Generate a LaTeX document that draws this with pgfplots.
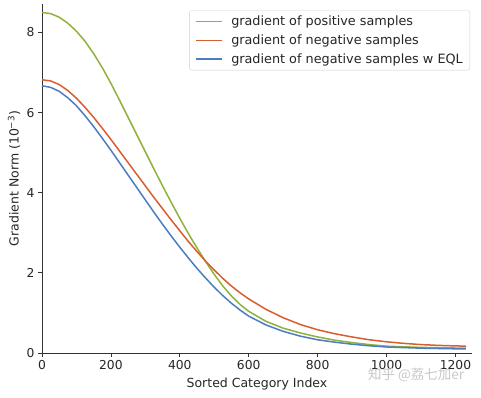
\documentclass[border=0pt]{standalone}
\usepackage{fontspec}
\setmainfont{DejaVu Sans}
\newfontfamily\cjk{Noto Sans CJK SC}
\usepackage{pgfplots}
\pgfplotsset{compat=1.18}
\definecolor{cgreen}{RGB}{142,178,60}
\definecolor{cred}{RGB}{217,94,45}
\definecolor{cblue}{RGB}{76,125,190}
\begin{document}
\begin{tikzpicture}
\begin{axis}[
  scale only axis, width=430pt, height=349pt,
  xmin=0, xmax=1248, ymin=0, ymax=8.71,
  axis x line*=bottom, axis y line*=left,
  axis line style={line width=0.8pt, black!80},
  tick align=outside, major tick length=4pt,
  tick style={line width=0.8pt, black!80},
  xtick={0,200,400,600,800,1000,1200},
  ytick={0,2,4,6,8},
  /pgf/number format/assume math mode=true,
  /pgf/number format/1000 sep={},
  ticklabel style={font=\fontsize{12.3}{14}\selectfont, text=black!85},
  xlabel={Sorted Category Index},
  ylabel={Gradient Norm (10\textsuperscript{\char"2212 3})},
  label style={font=\fontsize{12.5}{14}\selectfont, text=black!85},
  xlabel style={at={(axis description cs:0.5,-0.089)}, anchor=center},
  ylabel style={at={(axis description cs:-0.065,0.5)}, anchor=center},
  legend cell align=left,
  legend style={at={(1,1)}, anchor=north east, xshift=-2pt, yshift=-6.5pt,
    draw=black!18, rounded corners=2pt, fill=white,
    font=\fontsize{12.8}{14}\selectfont, text=black!85,
    inner xsep=5.5pt, inner ysep=3.8pt, row sep=4.6pt, column sep=7pt,
    nodes={inner sep=1.5pt}},
  legend image code/.code={\draw[#1, line width=1.7pt, rounded corners=0pt] (0pt,0pt) -- (26pt,0pt);},
  clip=false,
]
\addplot[color=cgreen, draw=cgreen, line width=1.5pt] coordinates {
(0,8.50) (25,8.47) (50,8.38) (75,8.23) (100,8.03) (125,7.78) (150,7.47) (175,7.12) (200,6.73)
(225,6.31) (250,5.88) (275,5.45) (300,5.02) (325,4.59) (350,4.17) (375,3.76) (400,3.36)
(425,2.98) (450,2.62) (475,2.28) (500,1.96) (525,1.67) (550,1.42) (575,1.21) (600,1.04)
(650,0.79) (700,0.62) (750,0.50) (800,0.40) (850,0.32) (900,0.26) (950,0.21) (1000,0.17)
(1100,0.14) (1230,0.12)};
\addlegendentry{gradient of positive samples}
\addplot[color=cred, draw=cred, line width=1.5pt] coordinates {
(0,6.82) (25,6.79) (50,6.70) (75,6.55) (100,6.36) (125,6.13) (150,5.88) (175,5.61) (200,5.33)
(225,5.04) (250,4.75) (275,4.46) (300,4.17) (325,3.88) (350,3.60) (375,3.32) (400,3.05)
(425,2.78) (450,2.53) (475,2.29) (500,2.07) (525,1.86) (550,1.67) (575,1.50) (600,1.35)
(650,1.09) (700,0.88) (750,0.71) (800,0.58) (850,0.48) (900,0.40) (950,0.33) (1000,0.28)
(1050,0.24) (1100,0.21) (1150,0.19) (1230,0.17)};
\addlegendentry{gradient of negative samples}
\addplot[color=cblue, draw=cblue, line width=1.5pt] coordinates {
(0,6.67) (25,6.63) (50,6.53) (75,6.37) (100,6.17) (125,5.92) (150,5.65) (175,5.36) (200,5.06)
(225,4.75) (250,4.44) (275,4.13) (300,3.82) (325,3.51) (350,3.21) (375,2.92) (400,2.64)
(425,2.37) (450,2.11) (475,1.87) (500,1.64) (525,1.43) (550,1.24) (575,1.07) (600,0.92)
(650,0.70) (700,0.54) (750,0.42) (800,0.33) (850,0.27) (900,0.22) (950,0.18) (1000,0.15)
(1100,0.12) (1230,0.10)};
\addlegendentry{gradient of negative samples w EQL}
\node[anchor=center, text=black!22, font=\cjk\fontsize{13.5}{15}\selectfont]
  at (rel axis cs:0.87,-0.063) {知乎 @荔七加er};
\end{axis}
\pgfresetboundingbox
\path ([shift={(-42pt,-45pt)}]current axis.south west) rectangle ([shift={(9pt,4pt)}]current axis.north east);
\end{tikzpicture}
\end{document}
